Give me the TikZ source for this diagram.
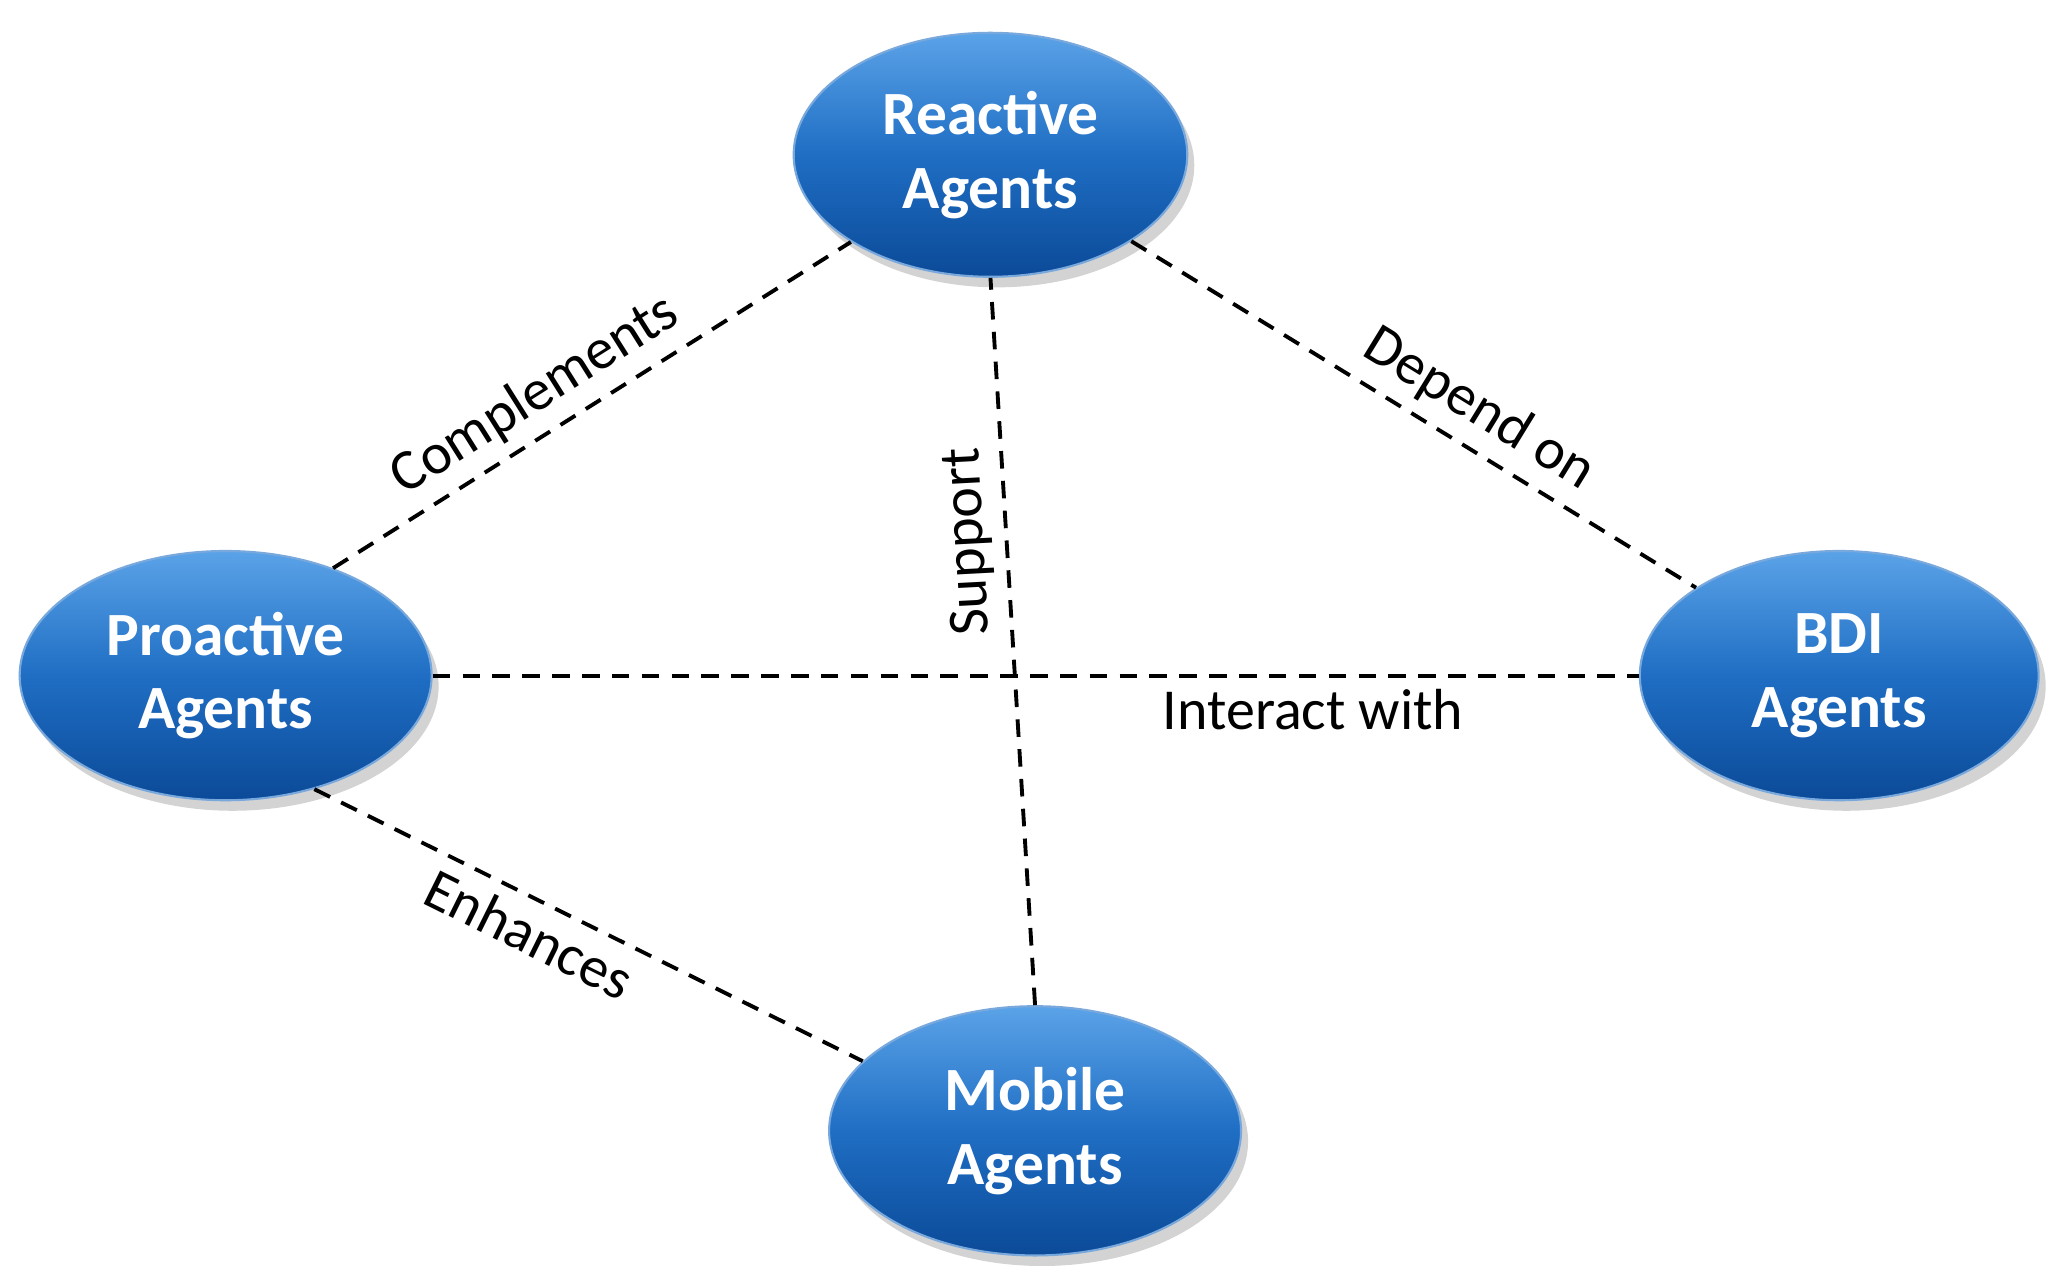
\documentclass[tikz,border=0pt]{standalone}
\usepackage{fontspec}
\setmainfont{Carlito}
\usetikzlibrary{shapes.geometric,shadows}
\definecolor{btop}{HTML}{5BA3E8}
\definecolor{bmid}{HTML}{1F6EC4}
\definecolor{bbot}{HTML}{0B4A98}
\begin{document}
\begin{tikzpicture}[x=0.01312cm,y=-0.01312cm,
  agent/.style={ellipse,inner sep=0pt,
    top color=btop,bottom color=bbot,middle color=bmid,draw=bmid!60!white,line width=0.6pt,
    text=white,font=\fontsize{17.5}{21}\selectfont\bfseries,align=center,
    drop shadow={shadow xshift=2pt,shadow yshift=-3pt,opacity=0.35}},
  rel/.style={draw,dashed,line width=1.1pt,dash pattern=on 5pt off 3.5pt},
  lab/.style={font=\fontsize{16.5}{20}\selectfont,sloped}]
\useasboundingbox (0,0) rectangle (1568,975);
\node[agent,minimum width=300*0.01312cm,minimum height=186*0.01312cm] (R) at (755,118) {Reactive\\Agents};
\node[agent,minimum width=314*0.01312cm,minimum height=190*0.01312cm] (P) at (172,515) {Proactive\\Agents};
\node[agent,minimum width=304*0.01312cm,minimum height=190*0.01312cm] (B) at (1402,515) {BDI\\Agents};
\node[agent,minimum width=314*0.01312cm,minimum height=190*0.01312cm] (M) at (789,862) {Mobile\\Agents};
\draw[rel] (P.45) -- node[lab,above,pos=0.43]{Complements} (R.-148);
\draw[rel] (R) -- node[lab,above,pos=0.58]{Depend on} (B);
\draw[rel] (M.north) -- node[font=\fontsize{16.5}{20}\selectfont,rotate=93,anchor=south,pos=0.64]{Support} (R.south);
\draw[rel] (P) -- node[lab,below,pos=0.73]{Interact with} (B);
\draw[rel] (P.-52) -- node[lab,below,pos=0.42]{Enhances} (M.158);
\end{tikzpicture}
\end{document}
